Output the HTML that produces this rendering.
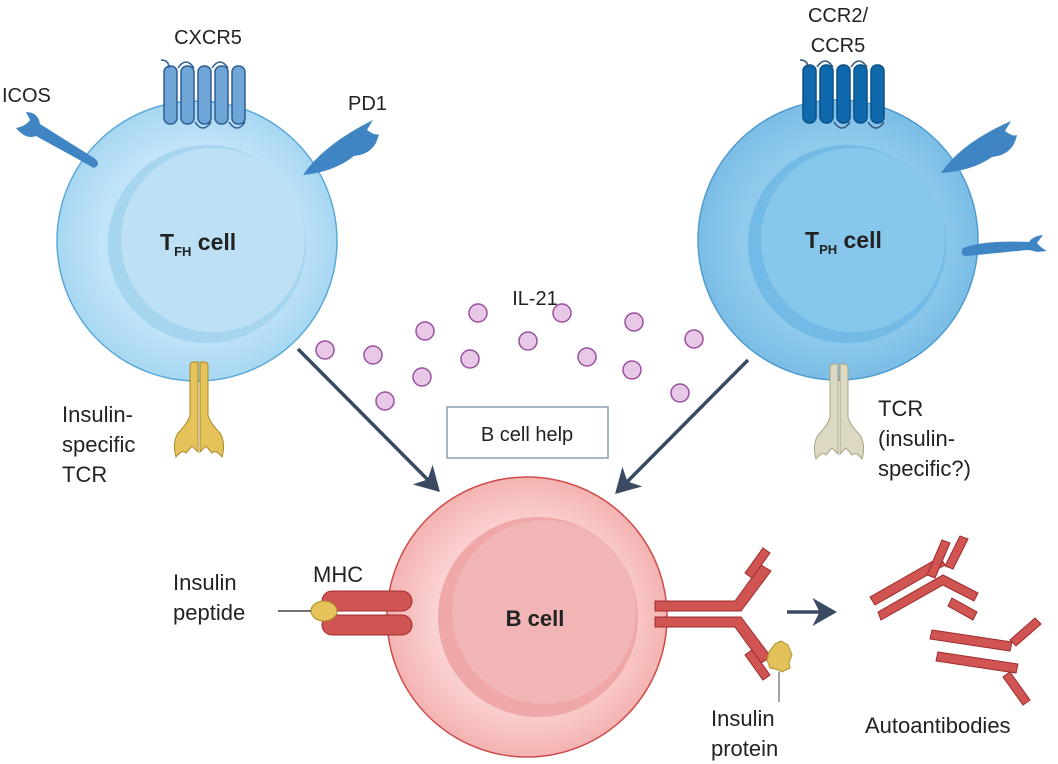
<!DOCTYPE html>
<html><head><meta charset="utf-8"><style>
html,body{margin:0;padding:0;background:#fff;}
svg{display:block;font-family:"Liberation Sans",sans-serif;}
</style></head><body>
<svg width="1058" height="764" viewBox="0 0 1058 764" xmlns="http://www.w3.org/2000/svg">
<defs>
<radialGradient id="gT" cx="0.5" cy="0.5" r="0.5"><stop offset="0.7" stop-color="#bfe3f7"/><stop offset="1" stop-color="#a7d7f2"/></radialGradient>
<radialGradient id="gP" cx="0.5" cy="0.5" r="0.5"><stop offset="0.7" stop-color="#8fcaec"/><stop offset="1" stop-color="#7bbde6"/></radialGradient>
<radialGradient id="gB" cx="0.5" cy="0.5" r="0.5"><stop offset="0.6" stop-color="#fbd7d6"/><stop offset="1" stop-color="#f4b3b2"/></radialGradient>
<marker id="ah" markerWidth="8" markerHeight="8" refX="5" refY="4" orient="auto" markerUnits="strokeWidth"><path d="M0,0 L7,4 L0,8 L2,4Z" fill="#3b4a63"/></marker>
</defs>

<!-- TFH cell -->
<circle cx="197" cy="241" r="140" fill="url(#gT)" stroke="#5aa9d8" stroke-width="1.5"/>
<circle cx="207" cy="244" r="99" fill="#a5d5ef"/>
<circle cx="213" cy="240" r="92" fill="#bde0f4"/>
<text x="160" y="250" font-size="23" font-weight="bold" fill="#222">T<tspan font-size="13" dy="6">FH</tspan><tspan dy="-6"> cell</tspan></text>
<g fill="#6fa6d8" stroke="#2f5f94" stroke-width="1.5">
<rect x="164" y="66" width="13" height="58" rx="6"/><rect x="181" y="66" width="13" height="58" rx="6"/><rect x="198" y="66" width="13" height="58" rx="6"/><rect x="215" y="66" width="13" height="58" rx="6"/><rect x="232" y="66" width="13" height="58" rx="6"/>
</g>
<path d="M161,60 q8,0 8,8 M178,68 q8,-12 16,0 M212,68 q8,-12 16,0 M195,122 q8,12 16,0 M229,122 q8,12 16,0" fill="none" stroke="#2f5f94" stroke-width="1.5"/>
<text x="208" y="44" font-size="20" text-anchor="middle" fill="#222">CXCR5</text>
<path d="M16,128 q10,-2 14,-8 l-4,-8 q12,0 14,12 l54,34 q8,6 0,10 l-58,-32 q-10,4 -20,-8z" fill="#3f85c3"/>
<text x="2" y="102" font-size="20" fill="#222">ICOS</text>
<path d="M303,175 q20,-30 70,-55 l-6,10 q8,6 12,4 q-4,20 -25,22 q-20,16 -51,19z" fill="#3f85c3"/>
<text x="348" y="110" font-size="20" fill="#222">PD1</text>
<!-- TCR yellow -->
<g fill="#e6c35a" stroke="#a88a2a" stroke-width="1">
<path d="M190,366 q0,-4 4,-4 h4 v90 l-6,-6 l-6,7 q-4,-4 -10,4 q-4,-14 2,-24 q10,-10 12,-18z"/>
<path d="M208,366 q0,-4 -4,-4 h-4 v90 l6,-6 l6,7 q4,-4 10,4 q4,-14 -2,-24 q-10,-10 -12,-18z"/>
</g>
<text x="62" y="422" font-size="22" fill="#222">Insulin-</text>
<text x="62" y="452" font-size="22" fill="#222">specific</text>
<text x="62" y="482" font-size="22" fill="#222">TCR</text>

<!-- TPH cell -->
<circle cx="838" cy="240" r="140" fill="url(#gP)" stroke="#4d9bd0" stroke-width="1.5"/>
<circle cx="847" cy="244" r="99" fill="#73bbe6"/>
<circle cx="853" cy="240" r="92" fill="#88c7ec"/>
<text x="805" y="248" font-size="23" font-weight="bold" fill="#222">T<tspan font-size="13" dy="6">PH</tspan><tspan dy="-6"> cell</tspan></text>
<g fill="#0f6aad" stroke="#0a4f85" stroke-width="1.5">
<rect x="803" y="65" width="13" height="58" rx="6"/><rect x="820" y="65" width="13" height="58" rx="6"/><rect x="837" y="65" width="13" height="58" rx="6"/><rect x="854" y="65" width="13" height="58" rx="6"/><rect x="871" y="65" width="13" height="58" rx="6"/>
</g>
<path d="M800,60 q8,0 8,8 M817,67 q8,-12 16,0 M851,67 q8,-12 16,0 M834,122 q8,12 16,0 M868,122 q8,12 16,0" fill="none" stroke="#34567a" stroke-width="1.5"/>
<text x="838" y="22" font-size="20" text-anchor="middle" fill="#222">CCR2/</text>
<text x="838" y="52" font-size="20" text-anchor="middle" fill="#222">CCR5</text>
<path d="M941,173 q20,-30 70,-52 l-6,10 q8,6 12,4 q-4,20 -25,22 q-20,14 -51,16z" fill="#3f85c3"/>
<path d="M963,248 q20,-8 66,-6 q4,-6 14,-7 l-6,8 q4,5 10,8 l-10,1 q-6,-2 -10,-2 l-60,6 q-8,0 -4,-8z" fill="#3f85c3"/>
<g fill="#dcd8c2" stroke="#a9a484" stroke-width="1">
<path d="M830,368 q0,-4 4,-4 h4 v90 l-6,-6 l-6,7 q-4,-4 -10,4 q-4,-14 2,-24 q10,-10 12,-18z"/>
<path d="M848,368 q0,-4 -4,-4 h-4 v90 l6,-6 l6,7 q4,-4 10,4 q4,-14 -2,-24 q-10,-10 -12,-18z"/>
</g>
<text x="878" y="416" font-size="22" fill="#222">TCR</text>
<text x="878" y="446" font-size="22" fill="#222">(insulin-</text>
<text x="878" y="476" font-size="22" fill="#222">specific?)</text>

<g fill="#e7c8e6" stroke="#9b4f9e" stroke-width="1.5">
<circle cx="325" cy="350" r="9"/><circle cx="373" cy="355" r="9"/><circle cx="385" cy="401" r="9"/><circle cx="422" cy="377" r="9"/><circle cx="425" cy="331" r="9"/><circle cx="470" cy="359" r="9"/><circle cx="478" cy="313" r="9"/><circle cx="528" cy="341" r="9"/><circle cx="562" cy="313" r="9"/><circle cx="587" cy="357" r="9"/><circle cx="634" cy="322" r="9"/><circle cx="632" cy="370" r="9"/><circle cx="694" cy="339" r="9"/><circle cx="680" cy="393" r="9"/>
</g>
<text x="535" y="305" font-size="20" text-anchor="middle" fill="#222">IL-21</text>

<line x1="298" y1="349" x2="435" y2="487" stroke="#3b4a63" stroke-width="3.5" marker-end="url(#ah)"/>
<line x1="748" y1="360" x2="620" y2="489" stroke="#3b4a63" stroke-width="3.5" marker-end="url(#ah)"/>
<rect x="447" y="407" width="161" height="51" fill="#fff" stroke="#8aa0b0" stroke-width="1.5"/>
<text x="527" y="441" font-size="20" text-anchor="middle" fill="#222">B cell help</text>

<circle cx="527" cy="617" r="140" fill="url(#gB)" stroke="#d04a4a" stroke-width="1.5"/>
<circle cx="538" cy="617" r="100" fill="#efa7a7"/>
<circle cx="544" cy="612" r="92" fill="#f1b5b5"/>
<text x="535" y="626" font-size="22" font-weight="bold" text-anchor="middle" fill="#222">B cell</text>
<rect x="322" y="591" width="90" height="20" rx="10" fill="#cf5452" stroke="#9e2c2c"/>
<rect x="322" y="615" width="90" height="20" rx="10" fill="#cf5452" stroke="#9e2c2c"/>
<ellipse cx="324" cy="611" rx="13" ry="10" fill="#e6c35a" stroke="#a88a2a"/>
<line x1="278" y1="611" x2="311" y2="611" stroke="#444" stroke-width="1.5"/>
<text x="313" y="582" font-size="22" fill="#222">MHC</text>
<text x="173" y="590" font-size="22" fill="#222">Insulin</text>
<text x="173" y="620" font-size="22" fill="#222">peptide</text>
<g fill="#cf5452" stroke="#9e2c2c" stroke-width="1">
<path d="M655,601 h80 l26,-36 l10,6 l-30,40 h-86z"/>
<path d="M655,617 h86 l30,40 l-10,6 l-26,-36 h-80z"/>
<path d="M745,573 l18,-25 l7,5 l-18,25z"/>
<path d="M745,655 l18,25 l7,-5 l-18,-25z"/>
</g>
<path d="M775,644 l6,-3 l7,4 l4,10 l-3,7 l1,6 l-8,4 l-6,-3 l-6,-1 l-3,-8 l2,-8z" fill="#e2c15a" stroke="#b2922a"/>
<line x1="779" y1="672" x2="779" y2="702" stroke="#444" stroke-width="1"/>
<text x="711" y="726" font-size="22" fill="#222">Insulin</text>
<text x="711" y="756" font-size="22" fill="#222">protein</text>
<line x1="787" y1="612" x2="830" y2="612" stroke="#3b4a63" stroke-width="3.5" marker-end="url(#ah)"/>
<g fill="#cf5452" stroke="#9e2c2c" stroke-width="1">
<path d="M870,597 l70,-40 l5,8 l-70,40z"/>
<path d="M878,612 l65,-37 l35,18 l-4,8 l-31,-16 l-62,35z"/>
<path d="M927,575 l15,-35 l8,3 l-15,35z"/>
<path d="M945,566 l15,-30 l8,3 l-15,30z"/>
<path d="M952,598 l25,14 l-4,8 l-25,-14z"/>
<path d="M932,630 l80,12 l-2,9 l-80,-12z"/>
<path d="M938,652 l80,12 l-2,9 l-80,-12z"/>
<path d="M1010,640 l25,-22 l6,6 l-25,22z"/>
<path d="M1010,672 l20,28 l-7,5 l-20,-28z"/>
</g>
<text x="865" y="733" font-size="22" fill="#222">Autoantibodies</text>
</svg>
</body></html>
